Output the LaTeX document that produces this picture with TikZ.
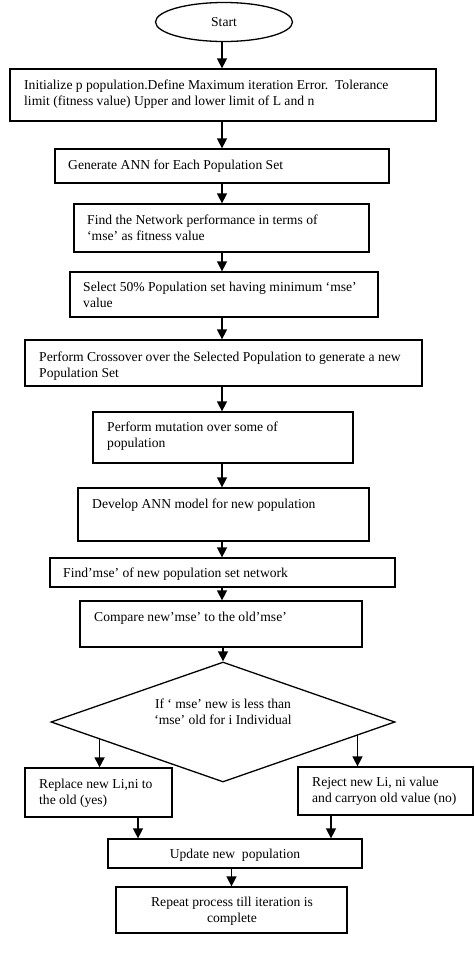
\documentclass[tikz,border=0pt]{standalone}
\usepackage{fontspec}
\setmainfont{Liberation Serif}
\usetikzlibrary{shapes.geometric,arrows.meta,calc}
\begin{document}
\begin{tikzpicture}[x=1pt,y=-1pt,
  box/.style={draw=black,line width=1.3pt,rectangle,inner sep=0pt},
  txt/.style={inner sep=0pt,font=\fontsize{13.6}{16.5}\selectfont,align=left,anchor=base west},
  ctxt/.style={inner sep=0pt,font=\fontsize{13.6}{16.5}\selectfont,align=center,anchor=base},
  arr/.style={line width=1.5pt,-{Triangle[length=10pt,width=10pt]}}]
\useasboundingbox (0,0) rectangle (474,956);
\fill[white] (0,0) rectangle (474,956);
\coordinate (ax) at (222,0);
% start
\node[draw=black,line width=1.3pt,ellipse,minimum width=137pt,minimum height=39pt,inner sep=0pt] (st) at (224,22) {};
\node[ctxt] at (224,26.5) {Start};
% boxes
\node[box,minimum width=426pt,minimum height=52pt] (b1) at (223,95) {};
\node[txt] at (24,105.5) {Initialize p population.Define Maximum iteration Error.\ \ Tolerance\\limit (fitness value) Upper and lower limit of L and n};
\node[box,minimum width=334pt,minimum height=34pt] (b2) at (222,166) {};
\node[txt] at (68,169.5) {Generate ANN for Each Population Set};
\node[box,minimum width=295pt,minimum height=48pt] (b3) at (221.5,228) {};
\node[txt] at (87,240.5) {Find the Network performance in terms of\\‘mse’ as fitness value};
\node[box,minimum width=308pt,minimum height=45pt] (b4) at (224,294.5) {};
\node[txt] at (83,307.5) {Select 50\% Population set having minimum ‘mse’\\value};
\node[box,minimum width=397pt,minimum height=46pt] (b5) at (223.5,363) {};
\node[txt] at (39,377.5) {Perform Crossover over the Selected Population to generate a new\\Population Set};
\node[box,minimum width=260pt,minimum height=51pt] (b6) at (223,437.5) {};
\node[txt] at (107,447.5) {Perform mutation over some of\\population};
\node[box,minimum width=291pt,minimum height=53pt] (b7) at (223.5,514.5) {};
\node[txt] at (92,508.5) {Develop ANN model for new population};
\node[box,minimum width=345pt,minimum height=29pt] (b8) at (222.5,572.5) {};
\node[txt] at (63,577.5) {Find’mse’ of new population set network};
\node[box,minimum width=282pt,minimum height=46pt] (b9) at (221,624) {};
\node[txt] at (94,621.5) {Compare new’mse’ to the old’mse’};
% decision
\node[draw=black,line width=1.3pt,diamond,minimum width=344pt,minimum height=120pt,inner sep=0pt] (dia) at (223,722) {};
\node[ctxt] at (223,724.5) {If ‘ mse’ new is less than\\‘mse’ old for i Individual};
\node[box,minimum width=147pt,minimum height=49pt] (b10) at (98.5,792.5) {};
\node[txt] at (39,804.5) {Replace new Li,ni to\\the old (yes)};
\node[box,minimum width=175pt,minimum height=48pt] (b11) at (385.5,791) {};
\node[txt] at (312,802.5) {Reject new Li, ni value\\and carryon old value (no)};
\node[box,minimum width=254pt,minimum height=29pt] (b12) at (235,853.5) {};
\node[ctxt] at (235,858.5) {Update new\ \ population};
\node[box,minimum width=231pt,minimum height=46pt] (b13) at (231.5,910) {};
\node[ctxt] at (232,922.5) {Repeat process till iteration is\\complete};
% connectors
\draw[arr] (st.south -| ax) -- (b1.north -| ax);
\draw[arr] (b1.south -| ax) -- (b2.north -| ax);
\draw[arr] (b2.south -| ax) -- (b3.north -| ax);
\draw[arr] (b3.south -| ax) -- (b4.north -| ax);
\draw[arr] (b4.south -| ax) -- (b5.north -| ax);
\draw[arr] (b5.south -| ax) -- (b6.north -| ax);
\draw[arr] (b6.south -| ax) -- (b7.north -| ax);
\draw[arr] (b7.south -| ax) -- (b8.north -| ax);
\draw[arr] (b8.south -| ax) -- (b9.north -| ax);
\draw[arr] (b9.south -| dia.north) -- (dia.north);
\coordinate (dl) at ($(dia.west)!0.285!(dia.south)$);
\coordinate (dr) at ($(dia.east)!0.221!(dia.south)$);
\draw[arr] (dl) -- (b10.north -| dl);
\draw[arr] (dr) -- (b11.north -| dr);
\coordinate (l10) at ([xshift=39.5pt]b10.south);
\coordinate (l11) at ([xshift=-54.5pt]b11.south);
\draw[arr] (l10) -- (b12.north -| l10);
\draw[arr] (l11) -- (b12.north -| l11);
\draw[arr] (b12.south -| b13.north) -- (b13.north);
\end{tikzpicture}
\end{document}
